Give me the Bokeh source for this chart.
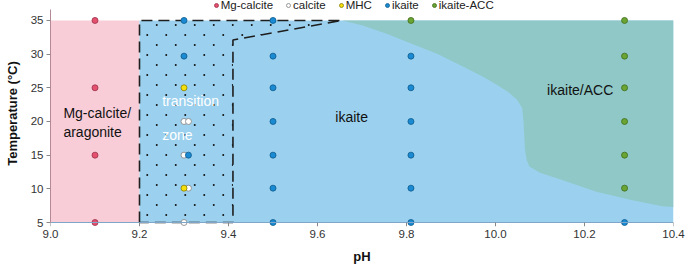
import base64
from bokeh.plotting import figure
from bokeh.models import Range1d, FixedTicker, Legend, LegendItem, LinearAxis, ImageURLTexture
from bokeh.core.properties import value
from bokeh.embed import file_html
from bokeh.resources import INLINE

FONT = "Liberation Sans"

# ---- axes ----
ph_ticks = [9.0, 9.2, 9.4, 9.6, 9.8, 10.0, 10.2, 10.4]
ph_tick_labels = ["9.0", "9.2", "9.4", "9.6", "9.8", "10.0", "10.2", "10.4"]
t_ticks = [5, 10, 15, 20, 25, 30, 35]

# ---- regions (pH, temperature) ----
pink_ph = [9.0, 9.2, 9.2, 9.0]
pink_t = [5, 5, 35, 35]
blue_ph = [9.2, 10.4, 10.4, 9.2]
blue_t = [5, 5, 35, 35]
acc_ph = [9.655, 9.70, 9.757, 9.809, 9.87, 9.929, 9.97, 10.004, 10.03, 10.049, 10.06,
          10.063, 10.066, 10.07, 10.076, 10.10, 10.15, 10.225, 10.30, 10.375, 10.4, 10.4]
acc_t = [35, 34.3, 33.0, 31.6, 30.0, 28.1, 26.7, 25.4, 24.3, 23.2, 22.0,
         20.0, 16.0, 14.3, 13.3, 12.4, 11.3, 9.6, 8.4, 7.4, 7.3, 35]
trans_ph = [9.2, 9.2, 9.655, 9.41, 9.41]
trans_t = [5, 35, 35, 32.1, 5]

# ---- observations ----
mg_ph = [9.1, 9.1, 9.1, 9.1]
mg_t = [5, 15, 25, 35]
calcite_ph = [9.30, 9.31, 9.30, 9.31, 9.30]
calcite_t = [20, 20, 15, 10.1, 5]
mhc_ph = [9.30, 9.30]
mhc_t = [25.0, 10.1]
ikaite_ph = [9.30, 9.30, 9.31,
             9.50, 9.50, 9.50, 9.50, 9.50, 9.50, 9.50,
             9.81, 9.81, 9.81, 9.81, 9.81, 9.81,
             10.29]
ikaite_t = [35, 29.7, 15,
            35, 29.7, 25, 20, 15, 10.1, 5,
            29.7, 25, 20, 15, 10.1, 5,
            5]
acc_pts_ph = [9.81, 10.29, 10.29, 10.29, 10.29, 10.29, 10.29]
acc_pts_t = [35, 35, 29.7, 25, 20, 15, 10.1]

series_names = ["Mg-calcite", "calcite", "MHC", "ikaite", "ikaite-ACC"]

# ---- region labels ----
dark_label_text = ["Mg-calcite/\naragonite", "ikaite", "ikaite/ACC"]
dark_label_ph = [9.029, 9.64, 10.116]
dark_label_t = [19.8, 20.7, 24.7]
white_label_text = ["transition", "zone"]
white_label_ph = [9.251, 9.251]
white_label_t = [23.0, 18.0]

p = figure(width=685, height=266, output_backend="svg", toolbar_location=None,
           x_range=Range1d(9.0, 10.4), y_range=Range1d(4.408, 37.96),
           min_border_left=50, min_border_right=12, min_border_top=0, min_border_bottom=39)
p.background_fill_color = "white"
p.border_fill_color = "white"
p.outline_line_color = None
p.xgrid.visible = False
p.ygrid.visible = False

p.patch(pink_ph, pink_t, fill_color="#f8cdd8", line_color=None)
p.patch(blue_ph, blue_t, fill_color="#9bd1ee", line_color=None)
p.patch(acc_ph, acc_t, fill_color="#8fc8c6", line_color=None)

# staggered dot texture for the transition zone
tile_svg = ('<svg xmlns="http://www.w3.org/2000/svg" width="19" height="20">'
            '<circle cx="4.75" cy="5" r="1.0" fill="#111111"/>'
            '<circle cx="14.25" cy="15" r="1.0" fill="#111111"/></svg>')
tile_url = "data:image/svg+xml;base64," + base64.b64encode(tile_svg.encode()).decode()
stagger_dots = ImageURLTexture(url=tile_url)
p.patch(trans_ph, trans_t, fill_color=None, line_color="#1e1e1e", line_width=1.6,
        line_dash="11 6", hatch_pattern="sdots", hatch_extra={"sdots": stagger_dots},
        hatch_color="#111111", hatch_scale=19, hatch_weight=1)

r_mg = p.scatter(mg_ph, mg_t, size=6, fill_color="#e4506e", line_color="#9a3049", line_width=0.8)
r_cal = p.scatter(calcite_ph, calcite_t, size=6, fill_color="white", line_color="#808080", line_width=0.8)
r_mhc = p.scatter(mhc_ph, mhc_t, size=6, fill_color="#f5e00c", line_color="#8a7d00", line_width=0.8)
r_ika = p.scatter(ikaite_ph, ikaite_t, size=6, fill_color="#1a8ad2", line_color="#0d5a8e", line_width=0.8)
r_acc = p.scatter(acc_pts_ph, acc_pts_t, size=6, fill_color="#6aa533", line_color="#3f6b1a", line_width=0.8)

p.text(dark_label_ph, dark_label_t, text=dark_label_text, text_font=value(FONT),
       text_font_size="14px", text_color="#111111", text_align="left",
       text_baseline="middle", text_line_height=1.2)
p.text(white_label_ph, white_label_t, text=white_label_text, text_font=value(FONT),
       text_font_size="14px", text_color="white", text_align="left",
       text_baseline="middle")

# x axis line + ticks sit on T = 5
xa = p.xaxis[0]
xa.fixed_location = 5
xa.ticker = FixedTicker(ticks=ph_ticks)
xa.major_label_text_alpha = 0
xa.axis_line_color = "#7ea6c8"
xa.major_tick_out = 4
xa.major_tick_in = 0
xa.minor_tick_out = 0
xa.minor_tick_in = 0
xa.major_tick_line_color = "#888888"

# x axis labels (frame bottom)
xl = LinearAxis(ticker=FixedTicker(ticks=ph_ticks), axis_label="pH")
xl.major_label_overrides = {t: l for t, l in zip(ph_ticks, ph_tick_labels)}
xl.axis_line_color = None
xl.major_tick_line_color = None
xl.minor_tick_line_color = None
xl.major_tick_out = 0
xl.major_tick_in = 0
xl.minor_tick_out = 0
xl.minor_tick_in = 0
p.add_layout(xl, "below")

ya = p.yaxis[0]
ya.bounds = (5, 36.63)
ya.ticker = FixedTicker(ticks=t_ticks)
ya.axis_label = "Temperature (°C)"
ya.axis_line_color = "#b48a97"
ya.major_tick_out = 4
ya.major_tick_in = 0
ya.minor_tick_out = 0
ya.minor_tick_in = 0
ya.major_tick_line_color = "#888888"

for ax in (xl, ya):
    ax.major_label_text_font = FONT
    ax.major_label_text_font_size = "11.5px"
    ax.major_label_text_color = "#333333"
    ax.major_label_standoff = 3
    ax.axis_label_text_font = FONT
    ax.axis_label_text_font_size = "13px"
    ax.axis_label_text_font_style = "bold"
    ax.axis_label_text_color = "#111111"
    ax.axis_label_standoff = 8

legend = Legend(items=[LegendItem(label=n, renderers=[r]) for n, r in
                       zip(series_names, [r_mg, r_cal, r_mhc, r_ika, r_acc])],
                orientation="horizontal", location=(160.7, 215.5),
                glyph_width=10, glyph_height=12, label_standoff=0, spacing=10,
                padding=0, margin=0, border_line_alpha=0, background_fill_alpha=0,
                label_text_font=FONT, label_text_font_size="11.5px",
                label_text_color="#222222", label_height=12)
p.add_layout(legend)

open("out.html", "w").write(file_html(p, INLINE))
